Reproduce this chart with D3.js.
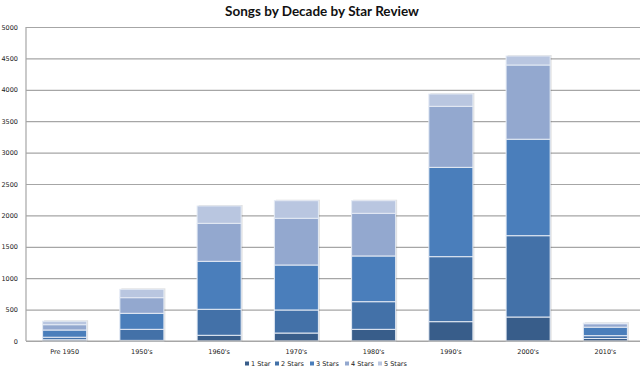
<!DOCTYPE html>
<html><head><meta charset="utf-8">
<script src="https://cdn.jsdelivr.net/npm/d3@7"></script>
<style>body{margin:0;background:#fff;}svg{display:block;}</style>
</head><body>
<svg id="c" width="640" height="372"></svg>
<script>
const decades = ["Pre 1950","1950's","1960's","1970's","1980's","1990's","2000's","2010's"];
const seriesNames = ["1 Star","2 Stars","3 Stars","4 Stars","5 Stars"];
const star1 = [20, 10, 91, 127, 186, 308, 382, 40];
const star2 = [40, 176, 414, 367, 440, 1035, 1295, 45];
const star3 = [115, 255, 764, 716, 728, 1422, 1536, 135];
const star4 = [85, 249, 605, 744, 679, 972, 1182, 55];
const star5 = [55, 133, 276, 280, 201, 196, 143, 10];
const yTicks = [0,500,1000,1500,2000,2500,3000,3500,4000,4500,5000];
const colors = ["#385d8a","#4371a8","#4a7ebb","#93a8cf","#b9c6e0"];

(function(){
const svg = d3.select("#c");
const mLeft = 26, mRight = 644, mTop = 27, mBottom = 341;
const x = d3.scaleBand().domain(decades).range([mLeft, mRight]).paddingInner(0.43).paddingOuter(0.215);
const y = d3.scaleLinear().domain([0,5000]).range([mBottom, mTop]);

svg.append("text").attr("x", 322).attr("y", 16).attr("text-anchor","middle")
  .attr("font-family","Lato, 'Open Sans', sans-serif").attr("font-weight","bold").attr("font-size",13.5)
  .attr("fill","#111").text("Songs by Decade by Star Review");

const yAxis = d3.axisLeft(y).tickValues(yTicks).tickSize(-(mRight-mLeft)).tickFormat(d3.format("d")).tickPadding(8);
const gy = svg.append("g").attr("transform",`translate(${mLeft},0)`).call(yAxis);
gy.select(".domain").remove();
gy.selectAll(".tick line").attr("stroke","#a6a6a6").attr("stroke-width",1.2);
gy.selectAll(".tick text").attr("font-family","'DejaVu Sans', sans-serif").attr("font-size",6.5).attr("fill","#222");
svg.append("line").attr("x1",mLeft).attr("x2",mLeft).attr("y1",mTop).attr("y2",mBottom).attr("stroke","#a6a6a6").attr("stroke-width",1.2);

const data = decades.map((d,i)=>({decade:d, "1 Star":star1[i], "2 Stars":star2[i], "3 Stars":star3[i], "4 Stars":star4[i], "5 Stars":star5[i]}));
const stacked = d3.stack().keys(seriesNames)(data);
const total = d => d3.sum(seriesNames, k=>d[k]);
svg.append("g").selectAll("rect").data(data).join("rect")
  .attr("x", d=>x(d.decade)+1.5).attr("width", x.bandwidth())
  .attr("y", d=>y(total(d))-1).attr("height", d=>mBottom - y(total(d))+1)
  .attr("fill","#000").attr("opacity",0.12);
svg.append("g").selectAll("g").data(stacked).join("g")
  .attr("fill",(d,i)=>colors[i])
  .selectAll("rect").data(d=>d).join("rect")
  .attr("x", d=>x(d.data.decade)).attr("width", x.bandwidth())
  .attr("y", d=>y(d[1])).attr("height", d=>y(d[0])-y(d[1]))
  .attr("stroke","#e4eaf4").attr("stroke-width",1);

svg.append("line").attr("x1",mLeft).attr("x2",640).attr("y1",mBottom).attr("y2",mBottom).attr("stroke","#a6a6a6").attr("stroke-width",1.2);
const xAxis = d3.axisBottom(x).tickSize(0).tickPadding(8);
const gx = svg.append("g").attr("transform",`translate(0,${mBottom})`).call(xAxis);
gx.select(".domain").remove();
gx.selectAll(".tick text").attr("font-family","'DejaVu Sans', sans-serif").attr("font-size",6.5).attr("fill","#222");

const legendX = [245, 275, 310, 345, 378];
const lg = svg.append("g").selectAll("g").data(seriesNames).join("g")
  .attr("transform",(d,i)=>`translate(${legendX[i]},366)`);
lg.append("rect").attr("x",0).attr("y",-4.5).attr("width",4).attr("height",4).attr("fill",(d,i)=>colors[i]);
lg.append("text").attr("x",6).attr("y",0).attr("font-family","'DejaVu Sans', sans-serif").attr("font-size",6.5).attr("fill","#222").text(d=>d);
})();
</script>
</body></html>
